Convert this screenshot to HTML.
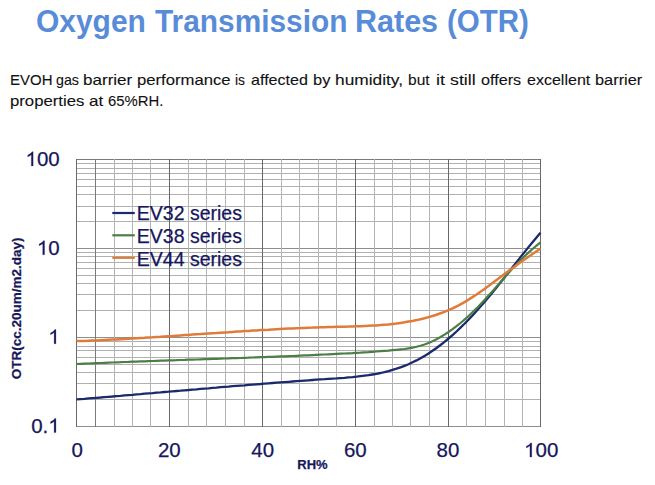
<!DOCTYPE html>
<html><head><meta charset="utf-8">
<style>
html,body{margin:0;padding:0;background:#fff;}
body{width:655px;height:485px;overflow:hidden;position:relative;font-family:"Liberation Sans",sans-serif;}
.tw,.pw{position:absolute;white-space:nowrap;transform-origin:0 0;}
.tw{font-size:31px;font-weight:bold;color:#588cd8;line-height:40px;}
.pw{font-size:14.5px;color:#111;-webkit-text-stroke:0.1px #111;line-height:20px;}
svg{position:absolute;left:0;top:0;}
</style></head><body>
<span class="tw" style="left:35.83px;top:2.0px;transform:scaleX(0.9658)">Oxygen</span>
<span class="tw" style="left:154.80px;top:2.0px;transform:scaleX(0.9631)">Transmission</span>
<span class="tw" style="left:354.83px;top:2.0px;transform:scaleX(0.9841)">Rates</span>
<span class="tw" style="left:447.45px;top:2.0px;transform:scaleX(0.9500)">(OTR)</span>
<span class="pw" style="left:10.07px;top:69.5px;transform:scaleX(1.0333)">EVOH</span>
<span class="pw" style="left:56.30px;top:69.5px;transform:scaleX(0.9826)">gas</span>
<span class="pw" style="left:82.92px;top:69.5px;transform:scaleX(1.1756)">barrier</span>
<span class="pw" style="left:136.75px;top:69.5px;transform:scaleX(1.1500)">performance</span>
<span class="pw" style="left:235.04px;top:69.5px;transform:scaleX(0.9556)">is</span>
<span class="pw" style="left:250.70px;top:69.5px;transform:scaleX(1.1098)">affected</span>
<span class="pw" style="left:313.46px;top:69.5px;transform:scaleX(1.1357)">by</span>
<span class="pw" style="left:335.41px;top:69.5px;transform:scaleX(1.1945)">humidity,</span>
<span class="pw" style="left:407.93px;top:69.5px;transform:scaleX(1.0700)">but</span>
<span class="pw" style="left:435.77px;top:69.5px;transform:scaleX(1.2500)">it</span>
<span class="pw" style="left:449.90px;top:69.5px;transform:scaleX(1.2250)">still</span>
<span class="pw" style="left:480.50px;top:69.5px;transform:scaleX(1.1139)">offers</span>
<span class="pw" style="left:526.70px;top:69.5px;transform:scaleX(1.1052)">excellent</span>
<span class="pw" style="left:595.07px;top:69.5px;transform:scaleX(1.1293)">barrier</span>
<span class="pw" style="left:10.05px;top:91.0px;transform:scaleX(1.1524)">properties</span>
<span class="pw" style="left:89.30px;top:91.0px;transform:scaleX(1.1750)">at</span>
<span class="pw" style="left:108.20px;top:91.0px;transform:scaleX(1.0264)">65%RH.</span>
<svg width="655" height="485" viewBox="0 0 655 485">
<g shape-rendering="crispEdges" stroke-width="1">
<line x1="76.0" y1="426.5" x2="541.0" y2="426.5" stroke="#8e8e8e"/>
<line x1="76.0" y1="399.5" x2="541.0" y2="399.5" stroke="#b0b0b0"/>
<line x1="76.0" y1="383.5" x2="541.0" y2="383.5" stroke="#b0b0b0"/>
<line x1="76.0" y1="372.5" x2="541.0" y2="372.5" stroke="#b0b0b0"/>
<line x1="76.0" y1="364.5" x2="541.0" y2="364.5" stroke="#b0b0b0"/>
<line x1="76.0" y1="357.5" x2="541.0" y2="357.5" stroke="#b0b0b0"/>
<line x1="76.0" y1="350.5" x2="541.0" y2="350.5" stroke="#b0b0b0"/>
<line x1="76.0" y1="346.5" x2="541.0" y2="346.5" stroke="#b0b0b0"/>
<line x1="76.0" y1="341.5" x2="541.0" y2="341.5" stroke="#b0b0b0"/>
<line x1="76.0" y1="337.5" x2="541.0" y2="337.5" stroke="#8e8e8e"/>
<line x1="76.0" y1="310.5" x2="541.0" y2="310.5" stroke="#b0b0b0"/>
<line x1="76.0" y1="294.5" x2="541.0" y2="294.5" stroke="#b0b0b0"/>
<line x1="76.0" y1="283.5" x2="541.0" y2="283.5" stroke="#b0b0b0"/>
<line x1="76.0" y1="275.5" x2="541.0" y2="275.5" stroke="#b0b0b0"/>
<line x1="76.0" y1="268.5" x2="541.0" y2="268.5" stroke="#b0b0b0"/>
<line x1="76.0" y1="262.5" x2="541.0" y2="262.5" stroke="#b0b0b0"/>
<line x1="76.0" y1="256.5" x2="541.0" y2="256.5" stroke="#b0b0b0"/>
<line x1="76.0" y1="252.5" x2="541.0" y2="252.5" stroke="#b0b0b0"/>
<line x1="76.0" y1="248.5" x2="541.0" y2="248.5" stroke="#8e8e8e"/>
<line x1="76.0" y1="221.5" x2="541.0" y2="221.5" stroke="#b0b0b0"/>
<line x1="76.0" y1="206.5" x2="541.0" y2="206.5" stroke="#b0b0b0"/>
<line x1="76.0" y1="194.5" x2="541.0" y2="194.5" stroke="#b0b0b0"/>
<line x1="76.0" y1="186.5" x2="541.0" y2="186.5" stroke="#b0b0b0"/>
<line x1="76.0" y1="179.5" x2="541.0" y2="179.5" stroke="#b0b0b0"/>
<line x1="76.0" y1="173.5" x2="541.0" y2="173.5" stroke="#b0b0b0"/>
<line x1="76.0" y1="168.5" x2="541.0" y2="168.5" stroke="#b0b0b0"/>
<line x1="76.0" y1="163.5" x2="541.0" y2="163.5" stroke="#b0b0b0"/>
<line x1="76.0" y1="159.5" x2="541.0" y2="159.5" stroke="#7a7a7a"/>
<line x1="76.5" y1="159.0" x2="76.5" y2="427.0" stroke="#6a6a6a"/>
<line x1="95.5" y1="159.0" x2="95.5" y2="427.0" stroke="#7a7a7a"/>
<line x1="114.5" y1="159.0" x2="114.5" y2="427.0" stroke="#b4b4b4"/>
<line x1="132.5" y1="159.0" x2="132.5" y2="427.0" stroke="#b4b4b4"/>
<line x1="150.5" y1="159.0" x2="150.5" y2="427.0" stroke="#b4b4b4"/>
<line x1="169.5" y1="159.0" x2="169.5" y2="427.0" stroke="#686868"/>
<line x1="188.5" y1="159.0" x2="188.5" y2="427.0" stroke="#b4b4b4"/>
<line x1="206.5" y1="159.0" x2="206.5" y2="427.0" stroke="#b4b4b4"/>
<line x1="225.5" y1="159.0" x2="225.5" y2="427.0" stroke="#b4b4b4"/>
<line x1="244.5" y1="159.0" x2="244.5" y2="427.0" stroke="#b4b4b4"/>
<line x1="262.5" y1="159.0" x2="262.5" y2="427.0" stroke="#686868"/>
<line x1="281.5" y1="159.0" x2="281.5" y2="427.0" stroke="#b4b4b4"/>
<line x1="299.5" y1="159.0" x2="299.5" y2="427.0" stroke="#b4b4b4"/>
<line x1="318.5" y1="159.0" x2="318.5" y2="427.0" stroke="#b4b4b4"/>
<line x1="336.5" y1="159.0" x2="336.5" y2="427.0" stroke="#b4b4b4"/>
<line x1="355.5" y1="159.0" x2="355.5" y2="427.0" stroke="#686868"/>
<line x1="374.5" y1="159.0" x2="374.5" y2="427.0" stroke="#b4b4b4"/>
<line x1="392.5" y1="159.0" x2="392.5" y2="427.0" stroke="#b4b4b4"/>
<line x1="410.5" y1="159.0" x2="410.5" y2="427.0" stroke="#b4b4b4"/>
<line x1="429.5" y1="159.0" x2="429.5" y2="427.0" stroke="#b4b4b4"/>
<line x1="448.5" y1="159.0" x2="448.5" y2="427.0" stroke="#686868"/>
<line x1="466.5" y1="159.0" x2="466.5" y2="427.0" stroke="#b4b4b4"/>
<line x1="485.5" y1="159.0" x2="485.5" y2="427.0" stroke="#b4b4b4"/>
<line x1="504.5" y1="159.0" x2="504.5" y2="427.0" stroke="#b4b4b4"/>
<line x1="522.5" y1="159.0" x2="522.5" y2="427.0" stroke="#b4b4b4"/>
<line x1="540.5" y1="159.0" x2="540.5" y2="427.0" stroke="#6a6a6a"/>
</g>
<g stroke-linecap="butt" stroke-linejoin="round">
<path d="M76.5 399.4 L80.5 399.1 L84.5 398.8 L88.5 398.4 L92.5 398.1 L96.5 397.8 L100.5 397.5 L104.5 397.1 L108.5 396.8 L112.5 396.5 L116.5 396.1 L120.5 395.8 L124.5 395.4 L128.5 395.1 L132.5 394.8 L136.5 394.4 L140.5 394.1 L144.5 393.7 L148.5 393.4 L152.5 393.1 L156.5 392.7 L160.5 392.4 L164.5 392.0 L168.5 391.7 L172.5 391.3 L176.5 391.0 L180.5 390.7 L184.5 390.3 L188.5 390.0 L192.5 389.6 L196.5 389.3 L200.5 388.9 L204.5 388.6 L208.5 388.3 L212.5 387.9 L216.5 387.6 L220.5 387.2 L224.5 386.9 L228.5 386.6 L232.5 386.2 L236.5 385.9 L240.5 385.6 L244.5 385.3 L248.5 384.9 L252.5 384.6 L256.5 384.3 L260.5 384.0 L264.5 383.6 L268.5 383.3 L272.5 383.0 L276.5 382.7 L280.5 382.4 L284.5 382.1 L288.5 381.8 L292.5 381.5 L296.5 381.2 L300.5 380.9 L304.5 380.6 L308.5 380.3 L312.5 380.0 L316.5 379.7 L320.5 379.4 L324.5 379.2 L328.5 378.9 L332.5 378.6 L336.5 378.4 L340.5 378.1 L344.5 377.8 L348.5 377.4 L352.5 377.1 L356.5 376.7 L360.5 376.2 L364.5 375.7 L368.5 375.2 L372.5 374.5 L376.5 373.8 L380.5 373.0 L384.5 372.1 L388.5 371.1 L392.5 369.9 L396.5 368.7 L400.5 367.3 L404.5 365.8 L408.5 364.2 L412.5 362.3 L416.5 360.4 L420.5 358.2 L424.5 355.9 L428.5 353.5 L432.5 350.8 L436.5 348.0 L440.5 345.0 L444.5 341.8 L448.5 338.5 L452.5 335.1 L456.5 331.5 L460.5 327.7 L464.5 323.8 L468.5 319.7 L472.5 315.5 L476.5 311.1 L480.5 306.6 L484.5 302.0 L488.5 297.3 L492.5 292.4 L496.5 287.5 L500.5 282.5 L504.5 277.5 L508.5 272.4 L512.5 267.3 L516.5 262.2 L520.5 257.1 L524.5 252.1 L528.5 247.1 L532.5 242.2 L536.5 237.4 L540.5 232.7" stroke="#1a2a6c" stroke-width="2.3" fill="none"/>
<path d="M76.5 364.0 L80.5 363.8 L84.5 363.6 L88.5 363.5 L92.5 363.3 L96.5 363.1 L100.5 363.0 L104.5 362.8 L108.5 362.6 L112.5 362.5 L116.5 362.3 L120.5 362.2 L124.5 362.0 L128.5 361.9 L132.5 361.7 L136.5 361.6 L140.5 361.4 L144.5 361.3 L148.5 361.1 L152.5 361.0 L156.5 360.8 L160.5 360.7 L164.5 360.6 L168.5 360.4 L172.5 360.3 L176.5 360.2 L180.5 360.0 L184.5 359.9 L188.5 359.7 L192.5 359.6 L196.5 359.5 L200.5 359.3 L204.5 359.2 L208.5 359.1 L212.5 358.9 L216.5 358.8 L220.5 358.7 L224.5 358.5 L228.5 358.4 L232.5 358.2 L236.5 358.1 L240.5 358.0 L244.5 357.8 L248.5 357.7 L252.5 357.5 L256.5 357.4 L260.5 357.2 L264.5 357.1 L268.5 356.9 L272.5 356.8 L276.5 356.6 L280.5 356.4 L284.5 356.3 L288.5 356.1 L292.5 356.0 L296.5 355.8 L300.5 355.6 L304.5 355.4 L308.5 355.3 L312.5 355.1 L316.5 354.9 L320.5 354.7 L324.5 354.5 L328.5 354.3 L332.5 354.1 L336.5 353.9 L340.5 353.7 L344.5 353.5 L348.5 353.3 L352.5 353.1 L356.5 352.8 L360.5 352.6 L364.5 352.3 L368.5 352.1 L372.5 351.8 L376.5 351.5 L380.5 351.2 L384.5 350.9 L388.5 350.6 L392.5 350.2 L396.5 349.8 L400.5 349.4 L404.5 349.0 L408.5 348.4 L412.5 347.7 L416.5 346.8 L420.5 345.8 L424.5 344.5 L428.5 342.9 L432.5 341.2 L436.5 339.2 L440.5 337.0 L444.5 334.6 L448.5 332.0 L452.5 329.2 L456.5 326.2 L460.5 323.0 L464.5 319.6 L468.5 316.1 L472.5 312.3 L476.5 308.4 L480.5 304.3 L484.5 300.0 L488.5 295.6 L492.5 291.2 L496.5 286.6 L500.5 282.1 L504.5 277.5 L508.5 273.1 L512.5 268.6 L516.5 264.4 L520.5 260.2 L524.5 256.3 L528.5 252.6 L532.5 249.0 L536.5 245.6 L540.5 242.3" stroke="#4b7f45" stroke-width="2.2" fill="none"/>
<path d="M76.5 341.1 L80.5 341.0 L84.5 340.9 L88.5 340.7 L92.5 340.5 L96.5 340.4 L100.5 340.2 L104.5 340.0 L108.5 339.8 L112.5 339.6 L116.5 339.4 L120.5 339.2 L124.5 339.0 L128.5 338.7 L132.5 338.5 L136.5 338.3 L140.5 338.0 L144.5 337.8 L148.5 337.5 L152.5 337.3 L156.5 337.0 L160.5 336.8 L164.5 336.5 L168.5 336.2 L172.5 336.0 L176.5 335.7 L180.5 335.4 L184.5 335.1 L188.5 334.9 L192.5 334.6 L196.5 334.3 L200.5 334.1 L204.5 333.8 L208.5 333.5 L212.5 333.2 L216.5 333.0 L220.5 332.7 L224.5 332.4 L228.5 332.2 L232.5 331.9 L236.5 331.6 L240.5 331.4 L244.5 331.1 L248.5 330.9 L252.5 330.6 L256.5 330.4 L260.5 330.1 L264.5 329.9 L268.5 329.7 L272.5 329.4 L276.5 329.2 L280.5 329.0 L284.5 328.8 L288.5 328.6 L292.5 328.4 L296.5 328.2 L300.5 328.1 L304.5 327.9 L308.5 327.7 L312.5 327.6 L316.5 327.4 L320.5 327.3 L324.5 327.2 L328.5 327.0 L332.5 326.9 L336.5 326.8 L340.5 326.7 L344.5 326.7 L348.5 326.6 L352.5 326.4 L356.5 326.3 L360.5 326.2 L364.5 326.0 L368.5 325.8 L372.5 325.6 L376.5 325.4 L380.5 325.1 L384.5 324.7 L388.5 324.4 L392.5 323.9 L396.5 323.5 L400.5 322.9 L404.5 322.3 L408.5 321.6 L412.5 320.9 L416.5 320.1 L420.5 319.2 L424.5 318.2 L428.5 317.1 L432.5 316.0 L436.5 314.7 L440.5 313.3 L444.5 311.8 L448.5 310.2 L452.5 308.4 L456.5 306.5 L460.5 304.3 L464.5 302.1 L468.5 299.6 L472.5 297.1 L476.5 294.5 L480.5 291.7 L484.5 288.9 L488.5 286.0 L492.5 283.1 L496.5 280.1 L500.5 277.1 L504.5 274.1 L508.5 271.1 L512.5 268.2 L516.5 265.2 L520.5 262.3 L524.5 259.5 L528.5 256.7 L532.5 254.0 L536.5 251.3 L540.5 248.8" stroke="#e07b39" stroke-width="2.5" fill="none"/>
</g>
<g stroke-width="2.2">
<line x1="112.3" y1="213" x2="134.8" y2="213" stroke="#1a2a6c"/>
<line x1="112.3" y1="235.3" x2="134.8" y2="235.3" stroke="#4b7f45"/>
<line x1="112.3" y1="257.8" x2="134.8" y2="257.8" stroke="#e07b39"/>
</g>
<g font-family="'Liberation Sans', sans-serif" fill="#17175c" stroke="#17175c" stroke-width="0.25">
<path d="M583 0L763 0L763 1410L646 1410C614 1350 560 1290 485 1228C410 1166 322 1116 223 1074L223 905C278 925 341 955 410 994C479 1033 537 1074 583 1116Z" transform="translate(25.50 165.90) scale(0.010010 -0.010010)" vector-effect="non-scaling-stroke"/>
<text x="36.90" y="165.9" font-size="20.5">00</text>
<path d="M583 0L763 0L763 1410L646 1410C614 1350 560 1290 485 1228C410 1166 322 1116 223 1074L223 905C278 925 341 955 410 994C479 1033 537 1074 583 1116Z" transform="translate(36.90 254.80) scale(0.010010 -0.010010)" vector-effect="non-scaling-stroke"/>
<text x="48.30" y="254.8" font-size="20.5">0</text>
<path d="M583 0L763 0L763 1410L646 1410C614 1350 560 1290 485 1228C410 1166 322 1116 223 1074L223 905C278 925 341 955 410 994C479 1033 537 1074 583 1116Z" transform="translate(48.30 343.70) scale(0.010010 -0.010010)" vector-effect="non-scaling-stroke"/>
<text x="31.20" y="432.6" font-size="20.5">0.</text>
<path d="M583 0L763 0L763 1410L646 1410C614 1350 560 1290 485 1228C410 1166 322 1116 223 1074L223 905C278 925 341 955 410 994C479 1033 537 1074 583 1116Z" transform="translate(48.30 432.60) scale(0.010010 -0.010010)" vector-effect="non-scaling-stroke"/>
<text x="77.1" y="457" font-size="20.5" text-anchor="middle">0</text>
<text x="169.3" y="457" font-size="20.5" text-anchor="middle">20</text>
<text x="262.7" y="457" font-size="20.5" text-anchor="middle">40</text>
<text x="355.3" y="457" font-size="20.5" text-anchor="middle">60</text>
<text x="447.9" y="457" font-size="20.5" text-anchor="middle">80</text>
<path d="M583 0L763 0L763 1410L646 1410C614 1350 560 1290 485 1228C410 1166 322 1116 223 1074L223 905C278 925 341 955 410 994C479 1033 537 1074 583 1116Z" transform="translate(524.10 457.00) scale(0.010010 -0.010010)" vector-effect="non-scaling-stroke"/>
<text x="535.50" y="457" font-size="20.5">00</text>
<text x="312.5" y="469" font-size="13" font-weight="bold" text-anchor="middle">RH%</text>
<text transform="translate(20.8,308.4) rotate(-90)" font-size="13.5" font-weight="bold" text-anchor="middle">OTR(cc.20um/m2.day)</text>
<text x="136.8" y="219.6" font-size="19.5" fill="#17175e" stroke="#17175e">EV32 series</text>
<text x="136.8" y="242.7" font-size="19.5" fill="#17175e" stroke="#17175e">EV38 series</text>
<text x="136.8" y="265.8" font-size="19.5" fill="#17175e" stroke="#17175e">EV44 series</text>
</g>
</svg>
</body></html>
